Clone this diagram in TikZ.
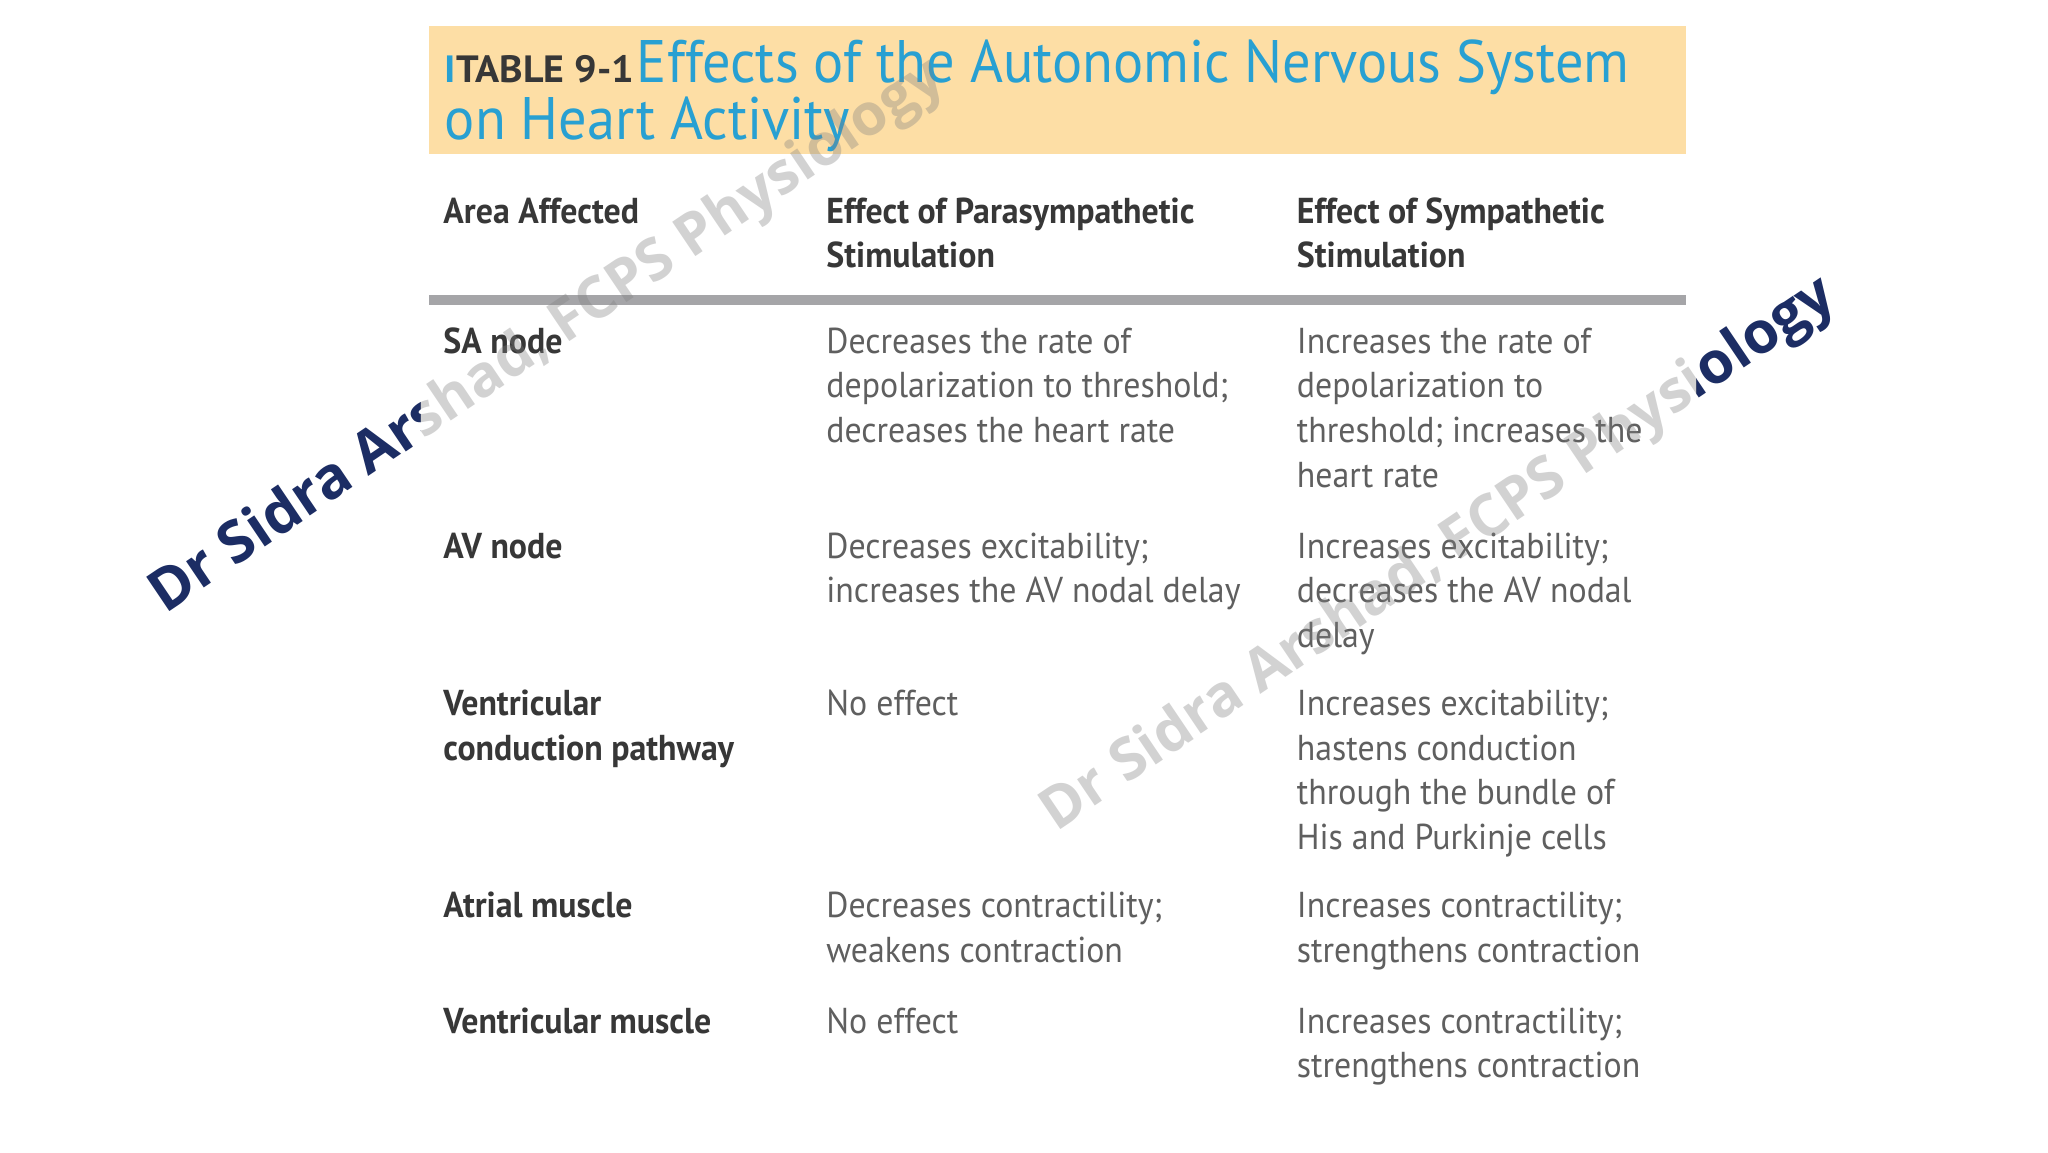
\documentclass[tikz,border=0pt]{standalone}
\usepackage{fontspec}
\setmainfont{PT Sans}[FakeStretch=0.94]
\newfontfamily\wmfont{Open Sans}[BoldFont={Open Sans Bold}]
\definecolor{banner}{RGB}{253,222,165}
\definecolor{titlec}{RGB}{40,160,210}
\definecolor{bodyc}{RGB}{95,95,95}
\definecolor{headc}{RGB}{55,55,55}
\definecolor{navy}{RGB}{28,45,100}
\definecolor{rulec}{RGB}{165,165,168}
\tikzset{
  cell/.style={anchor=north west,inner sep=0pt,align=left,font=\fontsize{18}{22.3}\selectfont,text=bodyc},
  hcell/.style={cell,font=\fontsize{18}{22.3}\selectfont\bfseries,text=headc},
  wm/.style={anchor=base west,inner sep=0pt,rotate=34,font=\wmfont\bfseries\fontsize{29}{30}\selectfont}
}
\begin{document}
\begin{tikzpicture}[x=0.6535pt,y=-0.6564pt]
\useasboundingbox (0,0) rectangle (1567,877.7);
\fill[white] (0,0) rectangle (1567,877.7);
% watermarks (behind)
\node[wm,text=navy] (w1) at (126,468) {Dr Sidra Arshad, FCPS Physiology};
\node[wm,text=navy] (w2) at (808,634) {Dr Sidra Arshad, FCPS Physiology};
% table background
\fill[white] (322,12) rectangle (1298,845);
\fill[banner] (328,20) rectangle (1290,117);
\node[anchor=base west,inner sep=0pt,font=\bfseries\fontsize{19}{20}\selectfont\addfontfeature{FakeStretch=1.05},text=headc] (tag) at (340,63) {{\color{titlec}I}TABLE 9-1};
\node[anchor=base west,inner sep=0pt,font=\fontsize{30}{28}\selectfont,text=titlec] (t1) at (487,63) {Effects of the Autonomic Nervous System};
\node[anchor=base west,inner sep=0pt,font=\fontsize{30}{28}\selectfont,text=titlec] (t2) at (340,106) {on Heart Activity};
\fill[rulec] (328,225) rectangle (1290,232);
% header
\node[hcell] (h1) at (339,146) {\strut Area Affected};
\node[hcell] (h2) at (632,146) {\strut Effect of Parasympathetic\\Stimulation};
\node[hcell] (h3) at (992,146) {\strut Effect of Sympathetic\\Stimulation};
% rows
\node[hcell] (a1) at (339,245) {\strut SA node};
\node[cell] (b1) at (632,245) {\strut Decreases the rate of\\depolarization to threshold;\\decreases the heart rate};
\node[cell] (c1) at (992,245) {\strut Increases the rate of\\depolarization to\\threshold; increases the\\heart rate};
\node[hcell] (a2) at (339,401) {\strut AV node};
\node[cell] (b2) at (632,401) {\strut Decreases excitability;\\increases the AV nodal delay};
\node[cell] (c2) at (992,401) {\strut Increases excitability;\\decreases the AV nodal\\delay};
\node[hcell] (a3) at (339,521) {\strut Ventricular\\conduction pathway};
\node[cell] (b3) at (632,521) {\strut No effect};
\node[cell] (c3) at (992,521) {\strut Increases excitability;\\hastens conduction\\through the bundle of\\His and Purkinje cells};
\node[hcell] (a4) at (339,675) {\strut Atrial muscle};
\node[cell] (b4) at (632,675) {\strut Decreases contractility;\\weakens contraction};
\node[cell] (c4) at (992,675) {\strut Increases contractility;\\strengthens contraction};
\node[hcell] (a5) at (339,763) {\strut Ventricular muscle};
\node[cell] (b5) at (632,763) {\strut No effect};
\node[cell] (c5) at (992,763) {\strut Increases contractility;\\strengthens contraction};
% watermarks seen through table
\begin{scope}
\clip (322,12) rectangle (1298,845);
\node[wm,text=gray,opacity=0.35] (w1b) at (126,468) {Dr Sidra Arshad, FCPS Physiology};
\node[wm,text=gray,opacity=0.35] (w2b) at (808,634) {Dr Sidra Arshad, FCPS Physiology};
\end{scope}
\end{tikzpicture}
\end{document}
